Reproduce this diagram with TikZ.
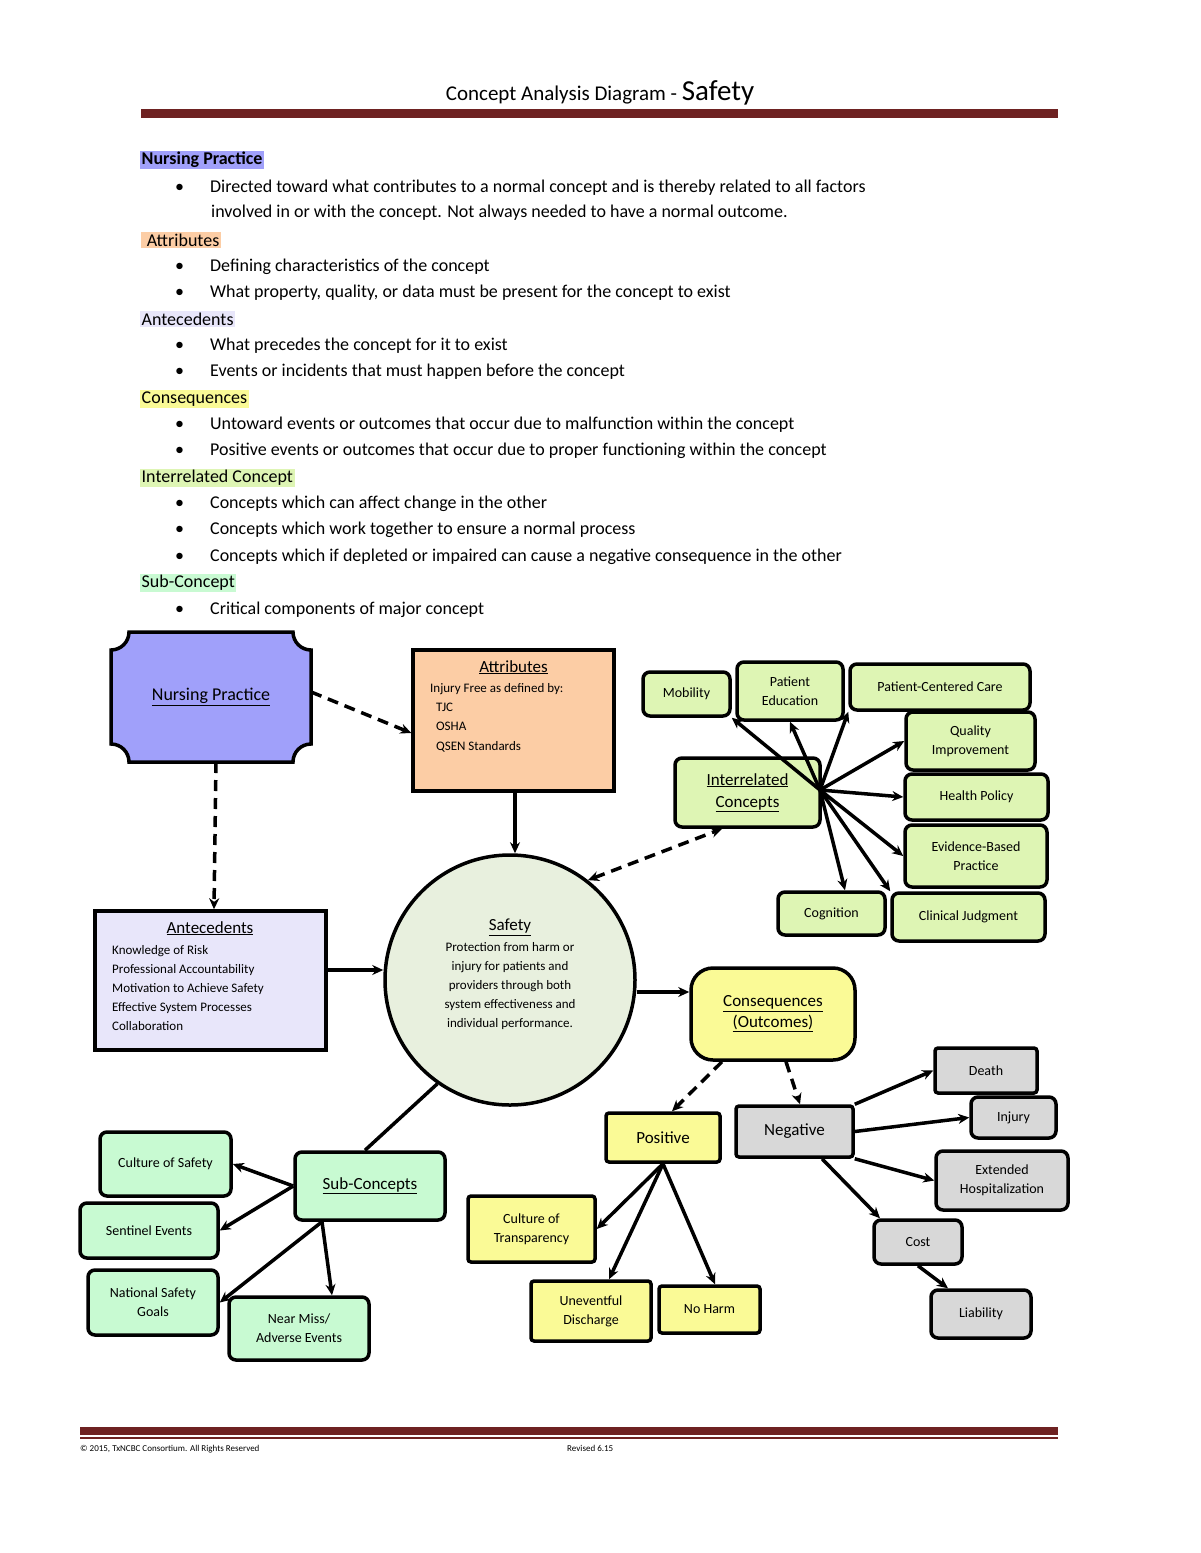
\documentclass[tikz,border=0pt]{standalone}
\usepackage{fontspec}
\setmainfont{Carlito}
\usetikzlibrary{arrows.meta}
\definecolor{maroon}{RGB}{110,34,34}
\definecolor{npblue}{RGB}{160,160,250}
\definecolor{attor}{RGB}{252,205,165}
\definecolor{antlav}{RGB}{232,230,250}
\definecolor{consy}{RGB}{250,250,150}
\definecolor{intg}{RGB}{222,245,180}
\definecolor{subg}{RGB}{200,250,210}
\definecolor{safg}{RGB}{232,240,222}
\definecolor{negg}{RGB}{216,216,216}
\begin{document}
\begin{tikzpicture}[x=1pt,y=-1pt,
  hd/.style={anchor=west,inner sep=1.5pt,font=\fontsize{18}{20}\selectfont},
  bl/.style={anchor=west,inner sep=0pt,font=\fontsize{18}{20}\selectfont},
  box/.style={draw,line width=3.5pt,inner sep=0pt,align=center,font=\fontsize{14}{19}\selectfont},
  rbox/.style={box,rounded corners=7pt},
  arr/.style={line width=3.5pt,-{Stealth[length=11pt,width=10pt]}},
  darr/.style={arr,dash pattern=on 11pt off 7pt},
  ln/.style={line width=3.5pt}]
\useasboundingbox[fill=white] (0,0) rectangle (1200,1553);
% header
\node[anchor=base,inner sep=0pt] (title) at (600,100) {\fontsize{21}{24}\selectfont Concept Analysis Diagram - {\fontsize{29}{30}\selectfont Safety}};
\fill[maroon] (141,109) rectangle (1058,118);
% definitions
\node[hd,fill=npblue,font=\fontsize{18}{20}\selectfont\bfseries] (h1) at (140,160) {Nursing Practice};
\node[bl] (b1) at (175,188) {\textbullet\hspace{26pt}Directed toward what contributes to a normal concept and is thereby related to all factors};
\node[bl] (b1b) at (211,213) {involved in or with the concept. Not always needed to have a normal outcome.};
\node[hd,fill=attor] (h2) at (141,240) {\ Attributes};
\node[bl] (b2) at (175,267) {\textbullet\hspace{26pt}Defining characteristics of the concept};
\node[bl] (b3) at (175,293) {\textbullet\hspace{26pt}What property, quality, or data must be present for the concept to exist};
\node[hd,fill=antlav] (h3) at (140,319) {Antecedents};
\node[bl] (b4) at (175,346) {\textbullet\hspace{26pt}What precedes the concept for it to exist};
\node[bl] (b5) at (175,372) {\textbullet\hspace{26pt}Events or incidents that must happen before the concept};
\node[hd,fill=consy] (h4) at (140,399) {Consequences};
\node[bl] (b6) at (175,425) {\textbullet\hspace{26pt}Untoward events or outcomes that occur due to malfunction within the concept};
\node[bl] (b7) at (175,451) {\textbullet\hspace{26pt}Positive events or outcomes that occur due to proper functioning within the concept};
\node[hd,fill=intg] (h5) at (140,478) {Interrelated Concept};
\node[bl] (b8) at (175,504) {\textbullet\hspace{26pt}Concepts which can affect change in the other};
\node[bl] (b9) at (175,530) {\textbullet\hspace{26pt}Concepts which work together to ensure a normal process};
\node[bl] (b10) at (175,557) {\textbullet\hspace{26pt}Concepts which if depleted or impaired can cause a negative consequence in the other};
\node[hd,fill=subg] (h6) at (140,583) {Sub-Concept};
\node[bl] (b11) at (175,610) {\textbullet\hspace{26pt}Critical components of major concept};
% Nursing practice plaque
\path[draw,fill=npblue,line width=3.5pt] (129,632) -- (293,632) arc[start angle=180,end angle=90,radius=18]
  -- (311,744) arc[start angle=270,end angle=180,radius=18]
  -- (129,762) arc[start angle=0,end angle=-90,radius=18]
  -- (111,650) arc[start angle=90,end angle=0,radius=18] -- cycle;
\node[inner sep=0pt,minimum width=200pt,minimum height=130pt,font=\fontsize{18}{20}\selectfont] (np) at (211,697) {\underline{Nursing Practice}};
% attributes
\node[box,fill=attor,minimum width=201pt,minimum height=141pt] (att) at (513.5,720.5) {};
\node[anchor=north,inner sep=0pt,font=\fontsize{17}{20}\selectfont] (attt) at (513.5,660) {\underline{Attributes}};
\node[anchor=north west,inner sep=0pt,align=left,font=\fontsize{13}{19.3}\selectfont] (attb) at (430,683) {Injury Free as defined by:\\\ \ TJC\\\ \ OSHA\\\ \ QSEN Standards};
% antecedents
\node[box,fill=antlav,minimum width=231pt,minimum height=139pt] (ant) at (210.5,980.5) {};
\node[anchor=north,inner sep=0pt,font=\fontsize{17}{20}\selectfont] (antt) at (210,921) {\underline{Antecedents}};
\node[anchor=north west,inner sep=0pt,align=left,font=\fontsize{13}{19}\selectfont] (antb) at (112,945) {Knowledge of Risk\\Professional Accountability\\Motivation to Achieve Safety\\Effective System Processes\\Collaboration};
% safety
\node[draw,circle,line width=3.5pt,fill=safg,minimum size=250pt,inner sep=0pt] (saf) at (510,980) {};
\node[anchor=north,inner sep=0pt,align=center,font=\fontsize{13}{19}\selectfont] (saft) at (510,919) {{\fontsize{17}{20}\selectfont\underline{Safety}}\\[2pt]Protection from harm or\\injury for patients and\\providers through both\\system effectiveness and\\individual performance.};
% interrelated
\node[rbox,fill=intg,minimum width=145pt,minimum height=69pt,font=\fontsize{17}{22}\selectfont] (int) at (747.5,792.5) {\underline{Interrelated}\\\underline{Concepts}};
\node[rbox,fill=intg,minimum width=87pt,minimum height=44pt] (mob) at (686.5,694) {Mobility};
\node[rbox,fill=intg,minimum width=106pt,minimum height=58pt] (ped) at (790,691) {Patient\\Education};
\node[rbox,fill=intg,minimum width=180pt,minimum height=46pt] (pcc) at (940,687) {Patient-Centered Care};
\node[rbox,fill=intg,minimum width=129pt,minimum height=58pt] (qi) at (970.5,741) {Quality\\Improvement};
\node[rbox,fill=intg,minimum width=143pt,minimum height=46pt] (hp) at (976.5,797) {Health Policy};
\node[rbox,fill=intg,minimum width=142pt,minimum height=62pt] (ebp) at (976,856) {Evidence-Based\\Practice};
\node[rbox,fill=intg,minimum width=107pt,minimum height=43pt] (cog) at (831.5,913.5) {Cognition};
\node[rbox,fill=intg,minimum width=153pt,minimum height=48pt] (cj) at (968.5,917) {Clinical Judgment};
\coordinate (hub) at (820,790);
% consequences
\node[draw,line width=3.5pt,rounded corners=22pt,fill=consy,minimum width=164pt,minimum height=92pt,inner sep=0pt,align=center,font=\fontsize{17}{21}\selectfont] (con) at (773,1014) {\underline{Consequences}\\\underline{(Outcomes)}};
\node[box,rounded corners=3pt,fill=consy,minimum width=114pt,minimum height=49pt,font=\fontsize{17}{20}\selectfont] (pos) at (663,1137.5) {Positive};
\node[box,rounded corners=3pt,fill=negg,minimum width=117pt,minimum height=51pt,font=\fontsize{17}{20}\selectfont] (neg) at (794.5,1131.5) {Negative};
\node[box,rounded corners=3pt,fill=negg,minimum width=102pt,minimum height=45pt] (dea) at (986,1070.5) {Death};
\node[rbox,fill=negg,minimum width=85pt,minimum height=41pt] (inj) at (1013.5,1117.5) {Injury};
\node[rbox,fill=negg,minimum width=132pt,minimum height=59pt] (ext) at (1002,1180.5) {Extended\\Hospitalization};
\node[rbox,fill=negg,minimum width=88pt,minimum height=44pt] (cost) at (918,1242) {Cost};
\node[rbox,fill=negg,minimum width=100pt,minimum height=48pt] (lia) at (981,1314) {Liability};
\node[box,rounded corners=3pt,fill=consy,minimum width=127pt,minimum height=66pt] (ctr) at (531.5,1229) {Culture of\\Transparency};
\node[box,rounded corners=3pt,fill=consy,minimum width=120pt,minimum height=60pt] (und) at (591,1311) {Uneventful\\Discharge};
\node[box,rounded corners=3pt,fill=consy,minimum width=101pt,minimum height=47pt] (noh) at (709.5,1309.5) {No Harm};
% sub-concepts
\node[rbox,fill=subg,minimum width=150pt,minimum height=68pt,font=\fontsize{17}{20}\selectfont] (sub) at (370,1186) {\underline{Sub-Concepts}};
\node[rbox,fill=subg,minimum width=131pt,minimum height=64pt] (cos) at (165.5,1164) {Culture of Safety};
\node[rbox,fill=subg,minimum width=138pt,minimum height=55pt] (sen) at (149,1230.5) {Sentinel Events};
\node[rbox,fill=subg,minimum width=130pt,minimum height=65pt] (nsg) at (153,1302.5) {National Safety\\Goals};
\node[rbox,fill=subg,minimum width=140pt,minimum height=63pt] (nmi) at (299,1328.5) {Near Miss/\\Adverse Events};
% connectors
\draw[darr] (np.east |- 0,692) -- (att.west |- 0,733);
\draw[darr] (216,762) -- (ant.north -| 214,0);
\draw[arr] (att.south -| 515,0) -- (saf.north -| 515,0);
\draw[arr] (ant.east |- 0,970) -- (saf.west |- 0,970);
\draw[darr,{Stealth[length=11pt,width=10pt]}-{Stealth[length=11pt,width=10pt]}] (saf.52) -- (int.south west -| 722,0);
\draw[arr] (saf.east |- 0,992) -- (con.west |- 0,992);
\draw[darr] (con.south -| 722,0) -- (pos.north -| 672,0);
\draw[darr] (con.south -| 786,0) -- (neg.north -| 800,0);
\draw[arr] (hub) -- (mob.south east);
\draw[arr] (hub) -- (ped.south);
\draw[arr] (hub) -- (pcc.south west);
\draw[arr] (hub) -- (qi.west);
\draw[arr] (hub) -- (hp.west);
\draw[arr] (hub) -- (ebp.west);
\draw[arr] (hub) -- (cog.north -| 845,0);
\draw[arr] (hub) -- (cj.north west);
\draw[arr] (neg.north east) -- (dea.west);
\draw[arr] (neg.east) -- (inj.west);
\draw[arr] (neg.south east) -- (ext.west);
\draw[arr] (neg.south -| 822,0) -- (cost.north -| 880,0);
\draw[arr] (cost.south) -- (lia.north -| 948,0);
\draw[arr] (pos.south) -- (ctr.east);
\draw[arr] (pos.south) -- (und.north -| 609,0);
\draw[arr] (pos.south) -- (noh.north -| 715,0);
\draw[ln] (saf.235) -- (sub.north -| 365,0);
\draw[arr] (sub.west) -- (cos.east);
\draw[arr] (sub.west) -- (sen.east);
\draw[arr] (sub.south -| 322,0) -- (nsg.east);
\draw[arr] (sub.south -| 322,0) -- (nmi.north -| 332,0);
% footer
\fill[maroon] (80,1427) rectangle (1058,1435);
\fill[maroon] (80,1437) rectangle (1058,1439);
\node[anchor=base west,inner sep=0pt,font=\fontsize{9}{10}\selectfont] (ft1) at (80,1451) {© 2015, TxNCBC Consortium. All Rights Reserved};
\node[anchor=base west,inner sep=0pt,font=\fontsize{9}{10}\selectfont] (ft2) at (567,1451) {Revised 6.15};
\end{tikzpicture}
\end{document}
